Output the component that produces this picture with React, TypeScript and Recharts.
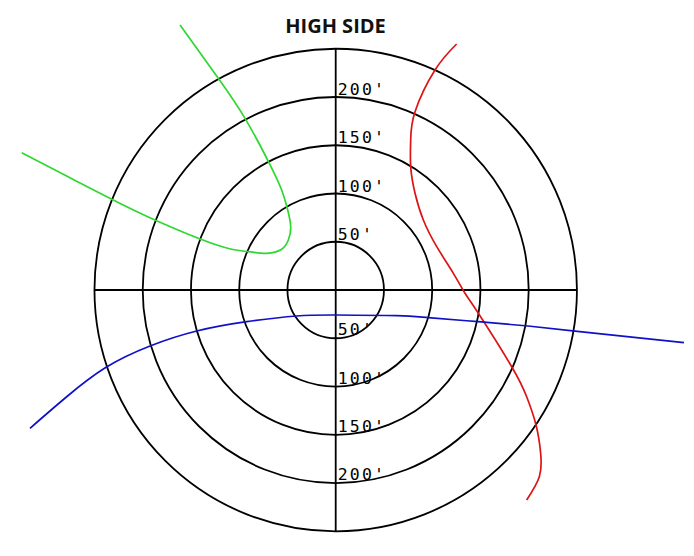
import React from 'react';
import { ScatterChart, Scatter, XAxis, YAxis, ReferenceArea, ReferenceLine, ReferenceDot } from 'recharts';

// distances in feet, centre of the target at (0, 0)
const ringRadii = [50, 100, 150, 200, 250];
const labelRadii = [50, 100, 150, 200];
const labelTexts = ["50'", "100'", "150'", "200'"];

const greenPath = [
  { x: -161.3, y: 274.6 }, { x: -121.7, y: 219.4 }, { x: -94.0, y: 177.9 }, { x: -68.8, y: 131.3 },
  { x: -56.0, y: 103.6 }, { x: -50.2, y: 84.7 }, { x: -46.6, y: 65.6 }, { x: -49.1, y: 51.8 },
  { x: -56.0, y: 42.2 }, { x: -71.5, y: 38.0 }, { x: -90.6, y: 39.7 }, { x: -123.3, y: 46.6 },
  { x: -187.3, y: 72.5 }, { x: -232.1, y: 94.0 }, { x: -278.8, y: 118.1 }, { x: -325.4, y: 142.3 },
];

const redPath = [
  { x: 125.3, y: 254.9 }, { x: 102.9, y: 228.0 }, { x: 82.2, y: 184.8 }, { x: 77.7, y: 155.4 },
  { x: 77.7, y: 127.8 }, { x: 82.2, y: 100.2 }, { x: 90.8, y: 72.5 }, { x: 104.7, y: 44.9 },
  { x: 121.9, y: 17.3 }, { x: 134.0, y: -3.4 }, { x: 147.8, y: -24.1 }, { x: 182.4, y: -79.5 },
  { x: 197.9, y: -110.6 }, { x: 207.6, y: -139.9 }, { x: 212.4, y: -169.2 }, { x: 211.0, y: -193.5 },
  { x: 197.9, y: -217.6 },
];

const bluePath = [
  { x: -316.8, y: -143.3 }, { x: -278.8, y: -110.6 }, { x: -238.0, y: -80.1 }, { x: -192.4, y: -58.0 },
  { x: -144.0, y: -42.5 }, { x: -92.2, y: -32.8 }, { x: -40.4, y: -26.9 }, { x: 1.0, y: -25.9 },
  { x: 63.2, y: -26.6 }, { x: 96.0, y: -28.7 }, { x: 147.8, y: -32.8 }, { x: 196.2, y: -37.0 },
  { x: 248.0, y: -42.5 }, { x: 360.9, y: -54.6 },
];

const labelStyle = { fontFamily: '"DejaVu Sans Mono", monospace', fontSize: 16.5, letterSpacing: 2.2 };

const noDot = () => <g />;

const ring = (props: any) => {
  const { x, y, width, height } = props;
  return (
    <ellipse
      cx={x + width / 2}
      cy={y + height / 2}
      rx={width / 2}
      ry={height / 2}
      fill="none"
      stroke="#000"
      strokeWidth={1.8}
    />
  );
};

const App = () => {
  return (
    <div style={{ position: 'absolute', left: 0, top: 0, width: 694, height: 556, background: '#fff' }}>
      <ScatterChart width={694} height={556} margin={{ top: 0, right: 0, bottom: 0, left: 0 }}>
        <XAxis type="number" dataKey="x" domain={[-347.9, 371.3]} allowDataOverflow hide />
        <YAxis type="number" dataKey="y" domain={[-275.6, 300.5]} allowDataOverflow hide />
        {ringRadii.map((r) => (
          <ReferenceArea key={`ring-${r}`} x1={-r} x2={r} y1={-r} y2={r} shape={ring} ifOverflow="visible" />
        ))}
        <ReferenceLine segment={[{ x: -250, y: 0 }, { x: 250, y: 0 }]} stroke="#000" strokeWidth={1.8} />
        <ReferenceLine segment={[{ x: 0, y: -250 }, { x: 0, y: 250 }]} stroke="#000" strokeWidth={1.8} />
        {labelRadii.map((r, i) => (
          <ReferenceDot
            key={`up-${r}`}
            x={0}
            y={r}
            r={0}
            shape={(p: any) => (
              <text x={p.cx + 2} y={p.cy - 2} fill="#000" style={labelStyle}>{labelTexts[i]}</text>
            )}
          />
        ))}
        {labelRadii.map((r, i) => (
          <ReferenceDot
            key={`down-${r}`}
            x={0}
            y={-r}
            r={0}
            shape={(p: any) => (
              <text x={p.cx + 2} y={p.cy - 3} fill="#000" style={labelStyle}>{labelTexts[i]}</text>
            )}
          />
        ))}
        <Scatter data={greenPath} line={{ stroke: '#2fd82f', strokeWidth: 1.7 }} lineJointType="natural" shape={noDot} isAnimationActive={false} />
        <Scatter data={redPath} line={{ stroke: '#dd1414', strokeWidth: 1.7 }} lineJointType="natural" shape={noDot} isAnimationActive={false} />
        <Scatter data={bluePath} line={{ stroke: '#1010c8', strokeWidth: 1.7 }} lineJointType="natural" shape={noDot} isAnimationActive={false} />
      </ScatterChart>
      <div
        style={{
          position: 'absolute',
          left: 0,
          top: 12,
          width: 671,
          textAlign: 'center',
          fontFamily: '"Open Sans", sans-serif',
          fontWeight: 700,
          fontSize: 20,
          lineHeight: '28px',
          color: '#111',
        }}
      >
        HIGH SIDE
      </div>
    </div>
  );
};

export default App;
